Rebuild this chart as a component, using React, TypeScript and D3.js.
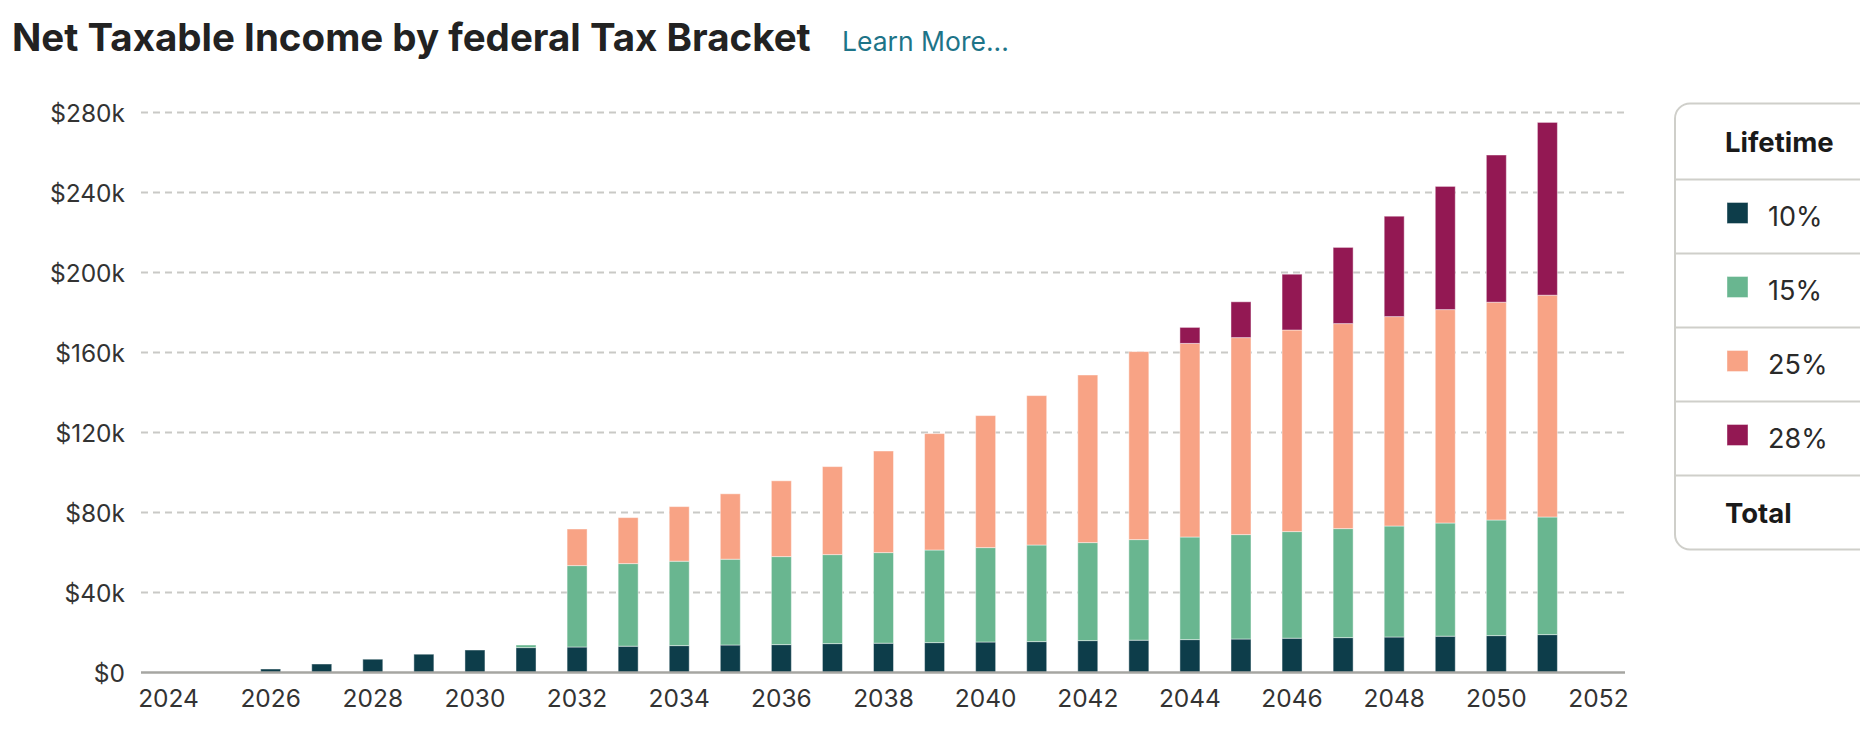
import React from "react";
import * as d3 from "d3";

const years = [2024, 2025, 2026, 2027, 2028, 2029, 2030, 2031, 2032, 2033, 2034, 2035, 2036, 2037, 2038, 2039, 2040, 2041, 2042, 2043, 2044, 2045, 2046, 2047, 2048, 2049, 2050, 2051];
const bracket10 = [0, 0, 1800, 4300, 6700, 9200, 11300, 12500, 12800, 13200, 13500, 13800, 14000, 14500, 14700, 15000, 15300, 15500, 16000, 16200, 16500, 16800, 17200, 17500, 17800, 18200, 18500, 19000];
const bracket15 = [0, 0, 0, 0, 0, 0, 0, 1300, 40700, 41300, 42200, 42900, 44000, 44500, 45300, 46300, 47200, 48300, 49000, 50300, 51300, 52200, 53300, 54500, 55500, 56600, 57800, 58800];
const bracket25 = [0, 0, 0, 0, 0, 0, 0, 0, 18300, 23000, 27300, 32700, 37900, 44000, 50800, 58200, 66000, 74700, 83800, 94000, 96800, 98500, 100800, 102500, 104700, 106700, 108900, 110900];
const bracket28 = [0, 0, 0, 0, 0, 0, 0, 0, 0, 0, 0, 0, 0, 0, 0, 0, 0, 0, 0, 0, 8000, 17900, 27900, 38100, 50200, 61600, 73600, 86400];

const seriesKeys = ["10%", "15%", "25%", "28%"];
const seriesColors = ["#0d3d4a", "#69b690", "#f8a385", "#931853"];
const xTicks = [2024, 2026, 2028, 2030, 2032, 2034, 2036, 2038, 2040, 2042, 2044, 2046, 2048, 2050, 2052];
const yTicks = [0, 40000, 80000, 120000, 160000, 200000, 240000, 280000];
const titleText = "Net Taxable Income by federal Tax Bracket";
const linkText = "Learn More...";
const legendHeader = "Lifetime";
const legendFooter = "Total";

const FONT = "Inter, 'Noto Sans', sans-serif";

export default function App() {
  const x = d3.scaleLinear().domain([2023.5, 2052.5]).range([143, 1624]);
  const y = d3.scaleLinear().domain([0, 280000]).range([672.6, 112.6]);
  const barW = 20;

  const rows = years.map((yr, i) => ({
    year: yr,
    "10%": bracket10[i],
    "15%": bracket15[i],
    "25%": bracket25[i],
    "28%": bracket28[i],
  }));
  const stacked = d3.stack<any>().keys(seriesKeys)(rows);

  const fmt = (v: number) => (v === 0 ? "$0" : `$${v / 1000}k`);

  const legendX = 1675;
  const legendTop = 103.5;
  const headerH = 76;
  const rowH = 74;

  return (
    <svg
      width={1860}
      height={750}
      style={{ position: "absolute", left: 0, top: 0, background: "#fff" }}
      fontFamily={FONT}
    >
      <text x={12} y={51} fontSize={38.5} fontWeight={700} fill="#222">
        {titleText}
      </text>
      <text x={842} y={51} fontSize={26.5} fill="#1d7488">
        {linkText}
      </text>

      {/* gridlines */}
      {yTicks.filter((t) => t > 0).map((t) => (
        <line
          key={t}
          x1={141}
          x2={1625}
          y1={y(t)}
          y2={y(t)}
          stroke="#c9c9c6"
          strokeWidth={2}
          strokeDasharray="7,5"
        />
      ))}

      {/* y labels */}
      {yTicks.map((t) => (
        <text
          key={t}
          x={125}
          y={y(t)}
          textAnchor="end"
          dominantBaseline="central"
          fontSize={24.5}
          fill="#333"
        >
          {fmt(t)}
        </text>
      ))}

      {/* bars */}
      {stacked.map((s, si) => (
        <g key={s.key} fill={seriesColors[si]}>
          {s.map((d, i) =>
            d[1] - d[0] > 0 ? (
              <rect
                key={i}
                x={x(years[i]) - barW / 2}
                width={barW}
                y={y(d[1])}
                height={y(d[0]) - y(d[1])}
                stroke="rgba(255,255,255,0.45)"
                strokeWidth={1}
              />
            ) : null
          )}
        </g>
      ))}

      {/* baseline */}
      <line x1={141} x2={1625} y1={y(0)} y2={y(0)} stroke="#a6a6a2" strokeWidth={2.5} />

      {/* x labels */}
      {xTicks.map((t) => (
        <text key={t} x={x(t)} y={707} textAnchor="middle" fontSize={24.5} fill="#333">
          {t}
        </text>
      ))}

      {/* legend */}
      <rect
        x={legendX}
        y={legendTop}
        width={260}
        height={headerH + rowH * 5}
        rx={15}
        fill="#fff"
        stroke="#cfcfca"
        strokeWidth={2}
      />
      <text x={1725} y={legendTop + headerH / 2} dominantBaseline="central" fontSize={27.5} fontWeight={700} fill="#1a1a1a">
        {legendHeader}
      </text>
      {[0, 1, 2, 3, 4].map((k) => (
        <line
          key={k}
          x1={legendX}
          x2={1860}
          y1={legendTop + headerH + k * rowH}
          y2={legendTop + headerH + k * rowH}
          stroke="#cfcfca"
          strokeWidth={2}
        />
      ))}
      {seriesKeys.map((key, i) => {
        const cy = legendTop + headerH + i * rowH + rowH / 2;
        return (
          <g key={key}>
            <rect x={1727} y={cy - 14} width={21} height={21} fill={seriesColors[i]} stroke="rgba(255,255,255,0.4)" strokeWidth={1} />
            <text x={1768} y={cy} dominantBaseline="central" fontSize={27} fill="#2a2a2a">
              {key}
            </text>
          </g>
        );
      })}
      <text
        x={1725}
        y={legendTop + headerH + 4 * rowH + rowH / 2}
        dominantBaseline="central"
        fontSize={27.5}
        fontWeight={700}
        fill="#1a1a1a"
      >
        {legendFooter}
      </text>
    </svg>
  );
}
